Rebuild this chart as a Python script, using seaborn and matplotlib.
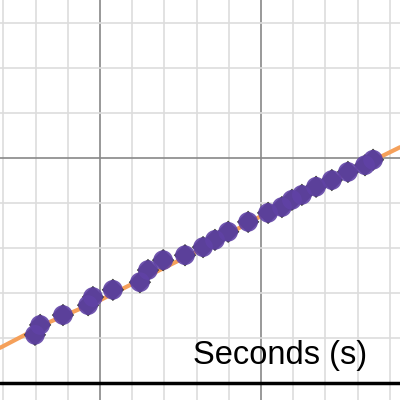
import matplotlib
matplotlib.use("Agg")
import matplotlib.pyplot as plt
import seaborn as sns
import numpy as np

pts_x = [2.98,3.14,3.85,4.63,4.78,5.40,6.24,6.49,6.96,7.64,8.20,8.57,8.98,9.60,10.22,10.65,10.96,11.27,11.71,12.20,12.70,13.23,13.48]
pts_y = [1.07,1.29,1.51,1.73,1.91,2.07,2.24,2.51,2.73,2.84,3.02,3.18,3.36,3.58,3.78,3.91,4.07,4.18,4.36,4.51,4.69,4.84,4.96]
curve_x = [1.89,3.45,5.0,6.55,8.11,9.66,11.21,12.76,14.32]
curve_y = [0.78,1.36,1.84,2.40,2.96,3.58,4.16,4.69,5.24]
label = "Seconds (s)"

sns.set_style("white")
plt.rcParams['font.family'] = ['Liberation Sans', 'DejaVu Sans']
fig = plt.figure(figsize=(4,4), dpi=100)
ax = fig.add_axes([0,0,1,1])
ax.set_xlim(1.894, 14.317)
ax.set_ylim(-0.378, 8.511)
for x in np.arange(2, 15):
    major = x % 5 == 0
    ax.axvline(x, color='#888888' if major else '#dddddd', lw=1.2, zorder=0)
for y in np.arange(1, 9):
    major = y % 5 == 0
    ax.axhline(y, color='#888888' if major else '#dddddd', lw=1.2, zorder=0)
ax.axhline(0, color='black', lw=2.5, zorder=1)
sns.lineplot(x=curve_x, y=curve_y, ax=ax, color='#f5a05a', lw=3, zorder=2)
sns.scatterplot(x=pts_x, y=pts_y, ax=ax, s=130, marker='D', color='#333333',
                edgecolor='none', zorder=3)
sns.scatterplot(x=pts_x, y=pts_y, ax=ax, s=200, marker='o', color='#6042a6',
                edgecolor='none', alpha=0.9, zorder=4)
ax.text(10.59, 0.6, label, fontsize=23.5, ha='center', va='center', color='black', zorder=5)
ax.set_xticks([]); ax.set_yticks([])
for s in ax.spines.values():
    s.set_visible(False)
fig.savefig("out.png", dpi=100)
